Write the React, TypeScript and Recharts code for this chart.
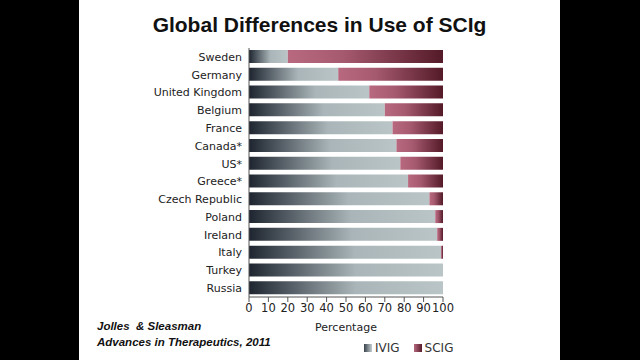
import React from "react";
import { BarChart, Bar, XAxis, YAxis, Legend } from "recharts";

const countries = [
  "Sweden",
  "Germany",
  "United Kingdom",
  "Belgium",
  "France",
  "Canada*",
  "US*",
  "Greece*",
  "Czech Republic",
  "Poland",
  "Ireland",
  "Italy",
  "Turkey",
  "Russia",
];
const ivig = [20, 46, 62, 70, 74, 76, 78, 82, 93, 96, 97, 99, 100, 100];
const scig = [80, 54, 38, 30, 26, 24, 22, 18, 7, 4, 3, 1, 0, 0];
const xTicks = [0, 10, 20, 30, 40, 50, 60, 70, 80, 90, 100];
const bandEdges = [0, 1, 2, 3, 4, 5, 6, 7, 8, 9, 10, 11, 12, 13, 14];

const data = countries.map((country, i) => ({
  country,
  IVIG: ivig[i],
  SCIG: scig[i],
}));

const sans = "'DejaVu Sans', Verdana, sans-serif";
const arial = "'Liberation Sans', Arial, sans-serif";

function LegendBox() {
  const item = (label: string, fill: string) => (
    <span style={{ display: "inline-flex", alignItems: "center", marginRight: 14 }}>
      <svg width={8} height={8} style={{ marginRight: 3 }}>
        <rect width={8} height={8} fill={fill} />
      </svg>
      <span>{label}</span>
    </span>
  );
  return (
    <div style={{ fontFamily: sans, fontSize: 12, color: "#333", whiteSpace: "nowrap" }}>
      {item("IVIG", "url(#ivigLeg)")}
      {item("SCIG", "url(#scigLeg)")}
    </div>
  );
}

export default function App() {
  return (
    <div style={{ position: "absolute", left: 0, top: 0, width: 640, height: 360, background: "#000" }}>
      <div style={{ position: "absolute", left: 79, top: 0, width: 481, height: 360, background: "#fff" }} />
      <svg width={0} height={0} style={{ position: "absolute" }}>
        <defs>
          <linearGradient id="ivigLeg" x1="0" y1="0" x2="1" y2="0">
            <stop offset="0%" stopColor="#3a424c" />
            <stop offset="100%" stopColor="#c4cdd0" />
          </linearGradient>
          <linearGradient id="scigLeg" x1="0" y1="0" x2="1" y2="0">
            <stop offset="0%" stopColor="#b5687f" />
            <stop offset="100%" stopColor="#5a1c2a" />
          </linearGradient>
        </defs>
      </svg>
      <div
        style={{
          position: "absolute",
          left: 79,
          width: 481,
          top: 13,
          textAlign: "center",
          fontFamily: arial,
          fontWeight: "bold",
          fontSize: 21,
          color: "#111",
        }}
      >
        Global Differences in Use of SCIg
      </div>
      <div
        style={{
          position: "absolute",
          left: 97,
          top: 318,
          fontFamily: arial,
          fontWeight: "bold",
          fontStyle: "italic",
          fontSize: 11.5,
          lineHeight: "16px",
          color: "#111",
        }}
      >
        <div>Jolles &nbsp;&amp; Sleasman</div>
        <div>Advances in Therapeutics, 2011</div>
      </div>
      <div style={{ position: "absolute", left: 0, top: 0 }}>
        <BarChart
          width={640}
          height={360}
          data={data}
          layout="vertical"
          margin={{ top: 48, right: 197, bottom: 27, left: 0 }}
          barSize={13}
        >
          <defs>
            <linearGradient id="ivigFill" x1="0" y1="0" x2="1" y2="0">
              <stop offset="0%" stopColor="#1e2530" />
              <stop offset="55%" stopColor="#a9b5b8" />
              <stop offset="100%" stopColor="#bac5c7" />
            </linearGradient>
            <linearGradient id="scigFill" x1="0" y1="0" x2="1" y2="0">
              <stop offset="0%" stopColor="#b8697f" />
              <stop offset="35%" stopColor="#a65a70" />
              <stop offset="100%" stopColor="#541a28" />
            </linearGradient>
          </defs>
          <YAxis
            yAxisId="edges"
            type="number"
            domain={[0, 14]}
            ticks={bandEdges}
            width={0}
            tick={false}
            tickSize={5}
            tickLine={{ stroke: "#555" }}
            axisLine={false}
          />
          <YAxis
            yAxisId="cat"
            type="category"
            dataKey="country"
            width={249}
            tickLine={false}
            tickSize={5}
            axisLine={{ stroke: "#555" }}
            tick={{ fontSize: 11, fill: "#222", fontFamily: sans }}
            interval={0}
          />
          <XAxis
            type="number"
            domain={[0, 100]}
            ticks={xTicks}
            interval={0}
            height={36}
            tickSize={5}
            tickLine={{ stroke: "#555" }}
            axisLine={{ stroke: "#555" }}
            tick={{ fontSize: 11.5, fill: "#222", fontFamily: sans }}
            label={{
              value: "Percentage",
              position: "insideBottom",
              offset: 2,
              style: { fontSize: 11, fill: "#222", fontFamily: sans },
            }}
          />
          <Legend
            layout="horizontal"
            verticalAlign="middle"
            align="center"
            content={<LegendBox />}
            wrapperStyle={{ position: "absolute", left: 364, top: 341, width: 130, height: 16 }}
          />
          <Bar dataKey="IVIG" stackId="a" yAxisId="cat" fill="url(#ivigFill)" isAnimationActive={false} />
          <Bar dataKey="SCIG" stackId="a" yAxisId="cat" fill="url(#scigFill)" isAnimationActive={false} />
        </BarChart>
      </div>
    </div>
  );
}
